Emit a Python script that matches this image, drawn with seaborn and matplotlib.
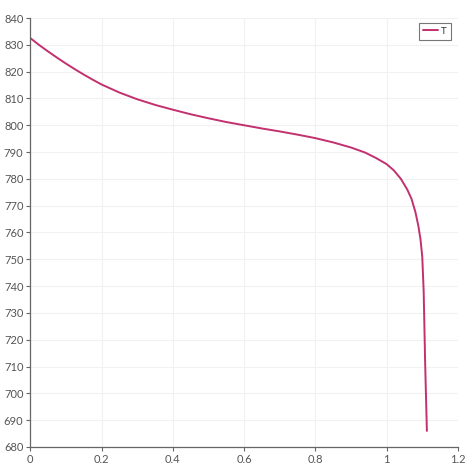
import pandas as pd
import seaborn as sns
import matplotlib.pyplot as plt

# curve values
x_vals = [0.0, 0.025, 0.05, 0.075, 0.1, 0.125, 0.15, 0.175, 0.2, 0.25, 0.3,
          0.35, 0.4, 0.45, 0.5, 0.55, 0.6, 0.65, 0.7, 0.75, 0.8, 0.85, 0.9,
          0.94, 0.97, 1.0, 1.02, 1.04, 1.058, 1.07, 1.081, 1.089, 1.095,
          1.1, 1.104, 1.108, 1.113]
t_vals = [832.5, 829.9, 827.5, 825.2, 823.0, 820.9, 818.9, 817.0, 815.2,
          812.2, 809.7, 807.6, 805.8, 804.1, 802.6, 801.2, 800.0, 798.8,
          797.7, 796.5, 795.2, 793.6, 791.7, 789.8, 787.8, 785.5, 783.2,
          780.0, 776.0, 772.5, 767.5, 762.5, 757.5, 751.0, 738.0, 712.0,
          686.0]
x_ticks = [0, 0.2, 0.4, 0.6, 0.8, 1, 1.2]
x_tick_labels = ['0', '0.2', '0.4', '0.6', '0.8', '1', '1.2']
y_ticks = list(range(680, 841, 10))

sns.set_theme(style="white")
plt.rcParams['font.family'] = ['Lato', 'DejaVu Sans']

df = pd.DataFrame({'x': x_vals, 'T': t_vals})

fig = plt.figure(figsize=(4.74, 4.74), dpi=100)
ax = fig.add_axes([0.064, 0.057, 0.902, 0.905])

sns.lineplot(data=df, x='x', y='T', ax=ax, color='#c2306f', linewidth=1.4,
             estimator=None, sort=False, label='T')

ax.set_xlim(0, 1.2)
ax.set_ylim(680, 840)
ax.set_xticks(x_ticks)
ax.set_xticklabels(x_tick_labels)
ax.set_yticks(y_ticks)
ax.set_xlabel('')
ax.set_ylabel('')

ax.grid(True, color='#f1f1f1', linewidth=0.8)
for side in ['top', 'right']:
    ax.spines[side].set_visible(False)
for side in ['left', 'bottom']:
    ax.spines[side].set_color('#666666')
    ax.spines[side].set_linewidth(0.9)
ax.tick_params(axis='both', which='both', direction='out', length=3,
               width=0.8, color='#666666', labelsize=8, labelcolor='#555555',
               pad=2, left=True, bottom=True)

leg = ax.legend(loc='upper right', fontsize=7, frameon=True, fancybox=False,
                handlelength=1.6, handletextpad=0.3, borderpad=0.4,
                bbox_to_anchor=(0.995, 1.0))
leg.get_frame().set_edgecolor('#555555')
leg.get_frame().set_linewidth(0.8)
for txt in leg.get_texts():
    txt.set_color('#333333')

fig.savefig('out.png', dpi=100)
